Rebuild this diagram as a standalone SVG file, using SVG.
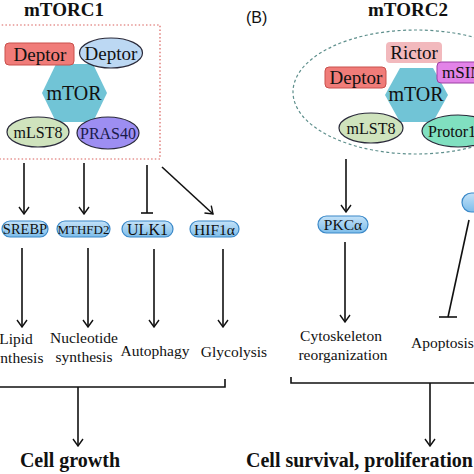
<svg xmlns="http://www.w3.org/2000/svg" width="474" height="474" viewBox="0 0 474 474">
<style>
.t{font-family:"Liberation Serif","Times New Roman",serif;fill:#111;text-anchor:middle}
.b{font-weight:bold}
.ln{stroke:#111;stroke-width:1.6;fill:none}
.pill{fill:url(#pg);stroke:#3a88c8;stroke-width:1.2}
.dk{stroke:#2a2a3a;stroke-width:1.2}
</style>
<defs>
<linearGradient id="pg" x1="0" y1="0" x2="0" y2="1">
<stop offset="0" stop-color="#c4e2f8"/>
<stop offset="1" stop-color="#7dbdea"/>
</linearGradient>
<marker id="ar" viewBox="0 0 12 12" refX="11" refY="6" markerWidth="12" markerHeight="12" markerUnits="userSpaceOnUse" orient="auto">
<path d="M4 1 L11 6 L4 11" fill="none" stroke="#111" stroke-width="1.4"/>
</marker>
</defs>
<rect width="474" height="474" fill="#fff"/>

<!-- Panel A -->
<text class="t b" x="64" y="16" font-size="19">mTORC1</text>
<g id="complex1">
<rect x="-2" y="25" width="162" height="134" fill="none" stroke="#d9605c" stroke-width="1.2" stroke-dasharray="1.5 2.2"/>
<g id="mtor1"><polygon points="42,93 56,64 93,64 107,93 93,122 56,122" fill="#71c4d6"/><text class="t" x="74" y="100" font-size="20">mTOR</text></g>
<g id="deptor1a"><rect x="5" y="43" width="69" height="22" rx="4" fill="#f07c79" stroke="#c9504c" stroke-width="1"/><text class="t" x="40" y="61" font-size="19">Deptor</text></g>
<g id="deptor1b"><ellipse cx="111" cy="53" rx="31.5" ry="15" fill="#bcd8f3" class="dk"/><text class="t" x="111" y="60" font-size="19">Deptor</text></g>
<g id="mlst8a"><ellipse cx="38" cy="132" rx="31" ry="15" fill="#cfe3bd" class="dk"/><text class="t" x="38" y="138" font-size="16">mLST8</text></g>
<g id="pras40"><ellipse cx="108" cy="133" rx="31" ry="16" fill="#9d8ef2" class="dk"/><text class="t" x="108" y="139" font-size="16" style="fill:#1a1a4a">PRAS40</text></g>
</g>

<g id="srebp"><rect x="2" y="221" width="46" height="16" rx="8" class="pill"/><text class="t" x="25" y="234" font-size="14.5">SREBP</text></g>
<g id="mthfd2"><rect x="57" y="221" width="53" height="16" rx="8" class="pill"/><text class="t" x="83.5" y="234" font-size="13">MTHFD2</text></g>
<g id="ulk1"><rect x="122" y="221" width="51" height="16" rx="8" class="pill"/><text class="t" x="147.5" y="235" font-size="16">ULK1</text></g>
<g id="hif1a"><rect x="190" y="221" width="49" height="16" rx="8" class="pill"/><text class="t" x="214.5" y="235" font-size="15.5">HIF1α</text></g>

<g id="lipid"><text class="t" x="16" y="344" font-size="15.5">Lipid</text><text class="t" x="15" y="363" font-size="15.5">synthesis</text></g>
<g id="nucleo"><text class="t" x="84" y="343" font-size="15.5">Nucleotide</text><text class="t" x="84" y="362" font-size="15.5">synthesis</text></g>
<g id="autophagy"><text class="t" x="155" y="356" font-size="15.5">Autophagy</text></g>
<g id="glycolysis"><text class="t" x="234" y="357" font-size="15.5">Glycolysis</text></g>
<g id="cellgrowth"><text class="t b" x="70" y="467" font-size="20">Cell growth</text></g>

<!-- Panel B -->
<text x="246" y="23" font-family="Liberation Sans, Arial, sans-serif" font-size="16" fill="#111">(B)</text>
<text class="t b" x="408" y="16" font-size="19">mTORC2</text>
<g id="complex2">
<ellipse cx="416" cy="92" rx="123" ry="62" fill="none" stroke="#5e8f8c" stroke-width="1.2" stroke-dasharray="3 2.5"/>
<g id="mtor2"><polygon points="385,95 400,68 433,68 448,95 433,122 400,122" fill="#71c4d6"/></g>
<g id="rictor"><rect x="386" y="42" width="56" height="21" rx="4" fill="#f2b9bd"/><text class="t" x="414" y="59" font-size="19">Rictor</text></g>
<g id="deptor2"><rect x="325" y="67" width="61" height="21" rx="4" fill="#f07c79" stroke="#c9504c" stroke-width="1"/><text class="t" x="356" y="84" font-size="19">Deptor</text></g>
<g id="msin1"><rect x="437" y="62" width="60" height="21" rx="4" fill="#e283e8" stroke="#9b3fa3" stroke-width="1"/><text class="t" x="442" y="78" font-size="17" style="text-anchor:start">mSIN1</text></g>
<text class="t" x="416" y="101" font-size="20">mTOR</text>
<g id="mlst8b"><ellipse cx="371" cy="128" rx="32" ry="15" fill="#cfe3bd" class="dk"/><text class="t" x="371" y="134" font-size="16">mLST8</text></g>
<g id="protor"><ellipse cx="458" cy="131" rx="36" ry="16" fill="#80e0c0" class="dk"/><text class="t" x="428" y="137" font-size="16" style="text-anchor:start">Protor1/2</text></g>
</g>

<g id="pkca"><rect x="318" y="216" width="50" height="17" rx="8.5" class="pill"/><text class="t" x="343" y="230" font-size="15.5">PKCα</text></g>
<g id="node3"><rect x="462" y="193" width="40" height="19" rx="9.5" class="pill"/></g>

<g id="cyto"><text class="t" x="341" y="341" font-size="15.5">Cytoskeleton</text><text class="t" x="343" y="360" font-size="15.5">reorganization</text></g>
<g id="apoptosis"><text class="t" x="411" y="348" font-size="15.5" style="text-anchor:start">Apoptosis</text></g>
<g id="cellsurv"><text class="t b" x="246" y="467" font-size="20" style="text-anchor:start">Cell survival, proliferation</text></g>

<!-- connectors -->
<g id="connectors">
<line class="ln" x1="24" y1="163" x2="24" y2="214" marker-end="url(#ar)"/>
<line class="ln" x1="84" y1="163" x2="84" y2="214" marker-end="url(#ar)"/>
<line class="ln" x1="147" y1="165" x2="147" y2="213"/>
<line class="ln" x1="141" y1="213" x2="153" y2="213"/>
<line class="ln" x1="162" y1="167" x2="213" y2="214" marker-end="url(#ar)"/>
<line class="ln" x1="22" y1="248" x2="22" y2="327" marker-end="url(#ar)"/>
<line class="ln" x1="88" y1="248" x2="88" y2="327" marker-end="url(#ar)"/>
<line class="ln" x1="154" y1="249" x2="154" y2="327" marker-end="url(#ar)"/>
<line class="ln" x1="223" y1="249" x2="223" y2="327" marker-end="url(#ar)"/>
<polyline class="ln" points="-2,387 225,387 225,379"/>
<line class="ln" x1="78" y1="387" x2="78" y2="446" marker-end="url(#ar)"/>

<line class="ln" x1="346" y1="159" x2="346" y2="212" marker-end="url(#ar)"/>
<line class="ln" x1="345" y1="242" x2="345" y2="322" marker-end="url(#ar)"/>
<line class="ln" x1="469" y1="220" x2="448" y2="317"/>
<line class="ln" x1="439" y1="317" x2="457" y2="317"/>
<polyline class="ln" points="291,377 291,383 476,383"/>
<line class="ln" x1="430" y1="383" x2="430" y2="446" marker-end="url(#ar)"/>
</g>
</svg>
